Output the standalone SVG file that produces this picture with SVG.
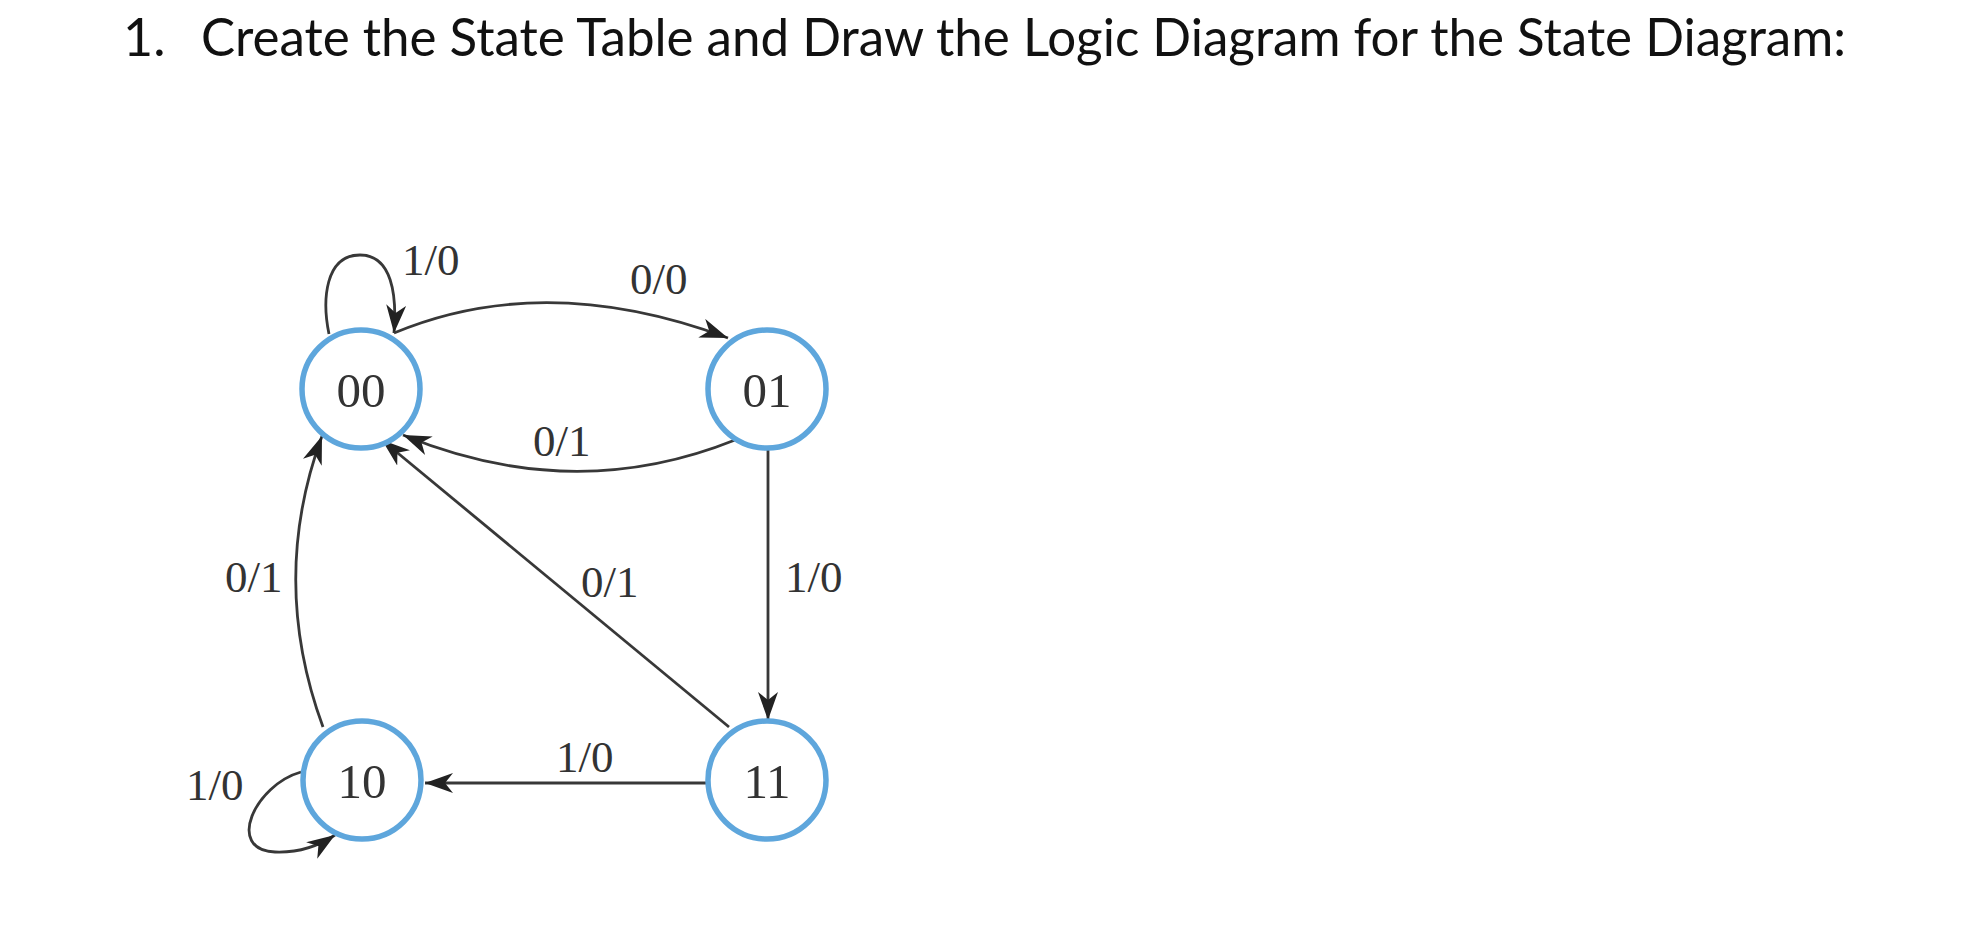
<svg xmlns="http://www.w3.org/2000/svg" width="1980" height="939" viewBox="0 0 1980 939">
<style>
.title{font-family:Lato,"Open Sans","Liberation Sans",sans-serif;font-size:52px;fill:#111}
.node circle{fill:#fff;stroke:#5ea6dc;stroke-width:5.5}
.node text{font-family:"Liberation Serif","DejaVu Serif",serif;font-size:49px;fill:#333;text-anchor:middle}
.edge{fill:none;stroke:#383838;stroke-width:2.8;marker-end:url(#arr)}
.lbl{font-family:"Liberation Serif","DejaVu Serif",serif;font-size:45px;fill:#333}
</style>
<defs>
<marker id="arr" markerUnits="userSpaceOnUse" markerWidth="30" markerHeight="20" refX="28" refY="10" orient="auto">
<path d="M0,0 L28,10 L0,20 L8,10 z" fill="#222"/>
</marker>
</defs>
<rect width="1980" height="939" fill="#fff"/>
<g id="title">
<text class="title" x="123" y="56">1.</text>
<text class="title" x="201" y="56" textLength="1645" lengthAdjust="spacingAndGlyphs">Create the State Table and Draw the Logic Diagram for the State Diagram:</text>
</g>
<g id="connectors">
<path class="edge" d="M329,334 C322,300 325,255 360,255 C392,255 397,295 394,333"/>
<path class="edge" d="M394,333 Q545,270 728,338" stroke-width="3.2"/>
<path class="edge" d="M735,440 Q573,505 403,435" stroke-width="3.2"/>
<path class="edge" d="M768,450 L768,720" stroke-width="2.4"/>
<path class="edge" d="M729,727 L382,440"/>
<path class="edge" d="M708,783 L425,783" stroke-width="3.2"/>
<path class="edge" d="M323,727 Q269,580 322,436" stroke-width="2.2"/>
<path class="edge" d="M301,772 C255,785 225,850 275,852 C300,853 320,845 335,835"/>
</g>
<g id="labels">
<text class="lbl" x="402" y="275">1/0</text>
<text class="lbl" x="630" y="294">0/0</text>
<text class="lbl" x="533" y="456">0/1</text>
<text class="lbl" x="225" y="592">0/1</text>
<text class="lbl" x="581" y="597">0/1</text>
<text class="lbl" x="785" y="592">1/0</text>
<text class="lbl" x="556" y="772">1/0</text>
<text class="lbl" x="186" y="800">1/0</text>
</g>
<g id="node-00" class="node"><circle cx="361" cy="389" r="59"/><text x="361" y="407">00</text></g>
<g id="node-01" class="node"><circle cx="767" cy="389" r="59"/><text x="767" y="407">01</text></g>
<g id="node-10" class="node"><circle cx="362" cy="780" r="59"/><text x="362" y="798">10</text></g>
<g id="node-11" class="node"><circle cx="767" cy="780" r="59"/><text x="767" y="798">11</text></g>
</svg>
